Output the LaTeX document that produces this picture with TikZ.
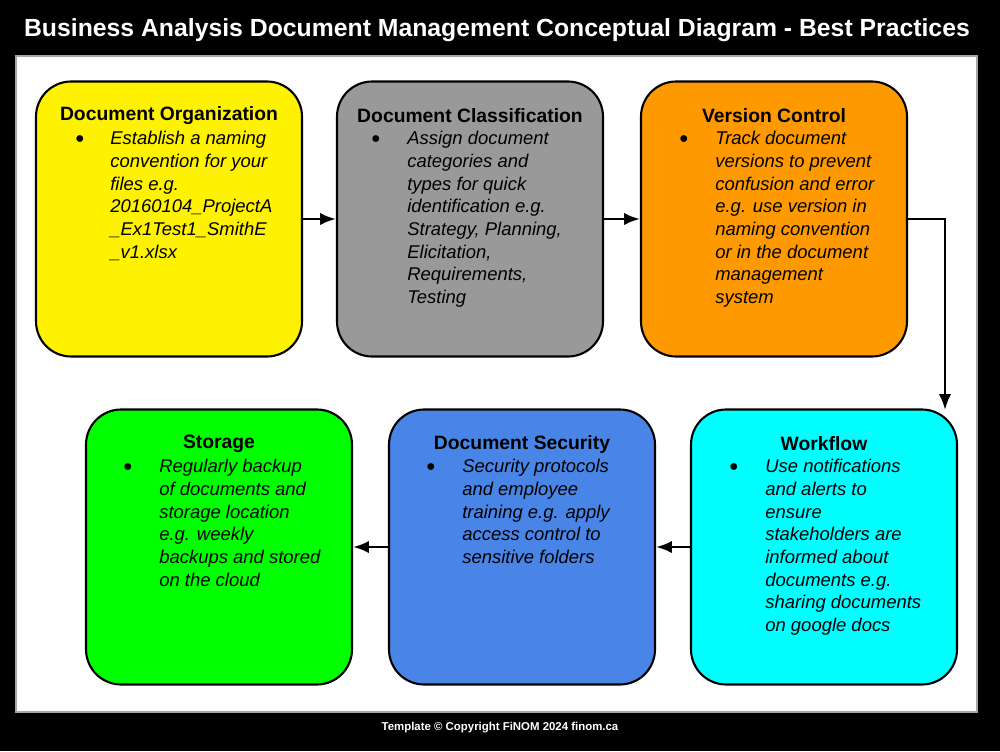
\documentclass[tikz,border=0pt]{standalone}
\usepackage{fontspec}
\setmainfont{Liberation Sans}
\usetikzlibrary{positioning,arrows.meta}

\definecolor{boxorange}{RGB}{255,153,0}
\definecolor{boxcyan}{RGB}{0,255,255}
\definecolor{boxblue}{RGB}{72,133,230}
\definecolor{boxgray}{RGB}{153,153,153}

\tikzset{
  stage/.style={draw=black,line width=1.2pt,rounded corners=20pt,minimum width=266*0.02cm,minimum height=275*0.02cm},
  head/.style={font=\fontsize{11pt}{12pt}\selectfont\bfseries},
  body/.style={font=\fontsize{10.5pt}{12.9pt}\selectfont\itshape,align=left,anchor=north west,inner sep=0pt},
  dot/.style={font=\fontsize{9pt}{12pt}\selectfont,anchor=north,inner sep=0pt},
  flow/.style={-{Latex[length=9pt,width=7pt]},line width=1.5pt}
}

\begin{document}
\begin{tikzpicture}[x=0.02cm,y=-0.02cm]
%background
\fill[black] (0,0) rectangle (1000,751);
\useasboundingbox (0,0) rectangle (1000,751);
\fill[white,draw=gray!70,line width=1.5pt] (16,56) rectangle (977,712);
\node[white,font=\fontsize{14.1pt}{16pt}\selectfont\bfseries] (title) at (497,30) {Business Analysis Document Management Conceptual Diagram - Best Practices};
\node[white,font=\fontsize{6.5pt}{7pt}\selectfont\bfseries] (foot) at (500,728) {Template © Copyright FiNOM 2024 finom.ca};

%row 1
\node[stage,fill=yellow] (org) at (169,219) {};
\node[head] at (169,116) {Document Organization};
\node[dot] at (80,135) {●};
\node[body] at (110,131) {Establish a naming\\convention for your\\files e.g.\\20160104\_ProjectA\\\_Ex1Test1\_SmithE\\\_v1.xlsx};

\node[stage,fill=boxgray] (cls) at (470,219) {};
\node[head] at (470,116) {Document Classification};
\node[dot] at (376,135) {●};
\node[body] at (407,131) {Assign document\\categories and\\types for quick\\identification e.g.\\Strategy, Planning,\\Elicitation,\\Requirements,\\Testing};

\node[stage,fill=boxorange] (ver) at (774,219) {};
\node[head] at (774,116) {Version Control};
\node[dot] at (684,135) {●};
\node[body] at (715,131) {Track document\\versions to prevent\\confusion and error\\e.g. use version in\\naming convention\\or in the document\\management\\system};

%row 2
\node[stage,fill=boxcyan] (wf) at (824,547) {};
\node[head] at (824,444) {Workflow};
\node[dot] at (734,463) {●};
\node[body] at (765,459) {Use notifications\\and alerts to\\ensure\\stakeholders are\\informed about\\documents e.g.\\sharing documents\\on google docs};

\node[stage,fill=boxblue] (sec) at (522,547) {};
\node[head] at (522,444) {Document Security};
\node[dot] at (431,463) {●};
\node[body] at (462,459) {Security protocols\\and employee\\training e.g. apply\\access control to\\sensitive folders};

\node[stage,fill=green] (sto) at (219,547) {};
\node[head] at (219,444) {Storage};
\node[dot] at (128,463) {●};
\node[body] at (159,459) {Regularly backup\\of documents and\\storage location\\e.g. weekly\\backups and stored\\on the cloud};

%arrows
\coordinate (drop) at (945,410);
\draw[flow] (org) -- (cls);
\draw[flow] (cls) -- (ver);
\draw[flow] (ver.east) -| (drop);
\draw[flow] (wf) -- (sec);
\draw[flow] (sec) -- (sto);
\end{tikzpicture}
\end{document}
